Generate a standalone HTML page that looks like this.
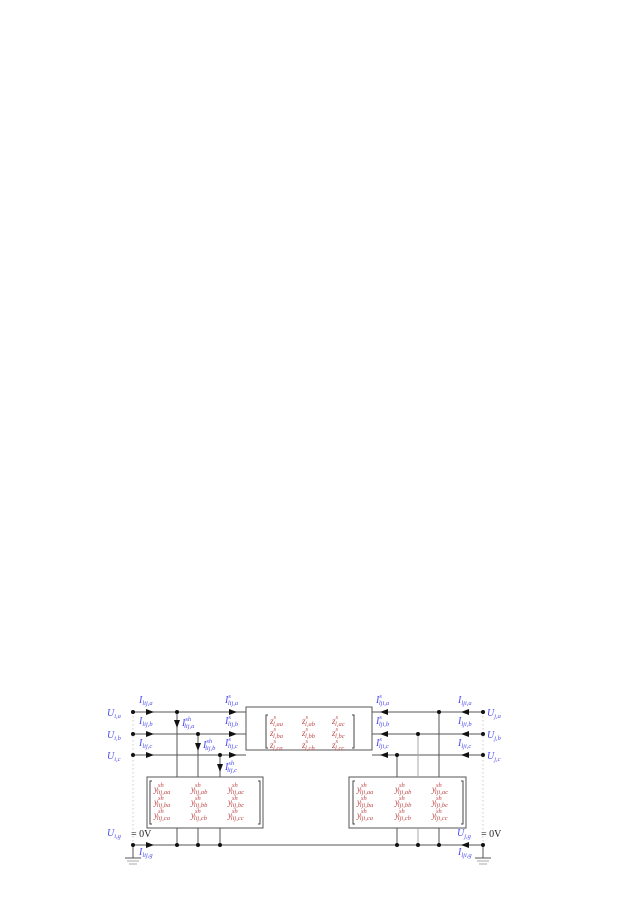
<!DOCTYPE html>
<html><head><meta charset="utf-8"><style>
html,body{margin:0;padding:0;background:#fff;}
svg{display:block;}
text{font-family:"Liberation Serif",serif;font-style:italic;}
.b{fill:#4a4af0;font-size:10px;}
.r{fill:#c04848;font-size:9px;}
.s{font-size:6.5px;}
.k{fill:#222;font-style:normal;font-size:10px;}
</style></head><body>
<svg width="641" height="906" viewBox="0 0 641 906" xmlns="http://www.w3.org/2000/svg">
<defs>
<marker id="ar" viewBox="0 0 10 10" refX="5" refY="5" markerWidth="10" markerHeight="10" orient="auto"><path d="M0,1 L10,5 L0,9 z" fill="#111"/></marker>
</defs>
<g stroke="#bbb" stroke-dasharray="1.5,2.5" stroke-width="0.8">
<line x1="133" y1="712" x2="133" y2="845"/><line x1="483" y1="712" x2="483" y2="845"/>
</g>
<g stroke="#555" stroke-width="1" fill="none">
<line x1="133" y1="712" x2="246" y2="712"/><line x1="133" y1="734" x2="246" y2="734"/><line x1="133" y1="755" x2="246" y2="755"/>
<line x1="372" y1="712" x2="483" y2="712"/><line x1="372" y1="734" x2="483" y2="734"/><line x1="372" y1="755" x2="483" y2="755"/>
<line x1="133" y1="845" x2="483" y2="845"/>
<rect x="246" y="707" width="126" height="43"/>
<rect x="147" y="777" width="116" height="51"/>
<rect x="349" y="777" width="117" height="51"/>
<line x1="177" y1="712" x2="177" y2="777"/><line x1="198" y1="734" x2="198" y2="777"/><line x1="220" y1="755" x2="220" y2="777"/>
<line x1="177" y1="828" x2="177" y2="845"/><line x1="198" y1="828" x2="198" y2="845"/><line x1="220" y1="828" x2="220" y2="845"/>
<line x1="439" y1="712" x2="439" y2="777"/><line x1="418" y1="734" x2="418" y2="777" stroke="#aaa"/><line x1="397" y1="755" x2="397" y2="777"/>
<line x1="439" y1="828" x2="439" y2="845"/><line x1="418" y1="828" x2="418" y2="845" stroke="#aaa"/><line x1="397" y1="828" x2="397" y2="845"/>
<line x1="133" y1="845" x2="133" y2="858"/>
<line x1="125" y1="858" x2="141" y2="858"/><line x1="127" y1="861" x2="139" y2="861" stroke="#aaa"/><line x1="129" y1="864" x2="137" y2="864" stroke="#aaa"/>
<line x1="483" y1="845" x2="483" y2="858"/>
<line x1="475" y1="858" x2="491" y2="858"/><line x1="477" y1="861" x2="489" y2="861" stroke="#aaa"/><line x1="479" y1="864" x2="487" y2="864" stroke="#aaa"/>
</g>
<g fill="#111">
<path d="M146,709 l8,3 l-8,3z"/><path d="M146,731 l8,3 l-8,3z"/><path d="M146,752 l8,3 l-8,3z"/><path d="M146,842 l8,3 l-8,3z"/>
<path d="M229,709 l8,3 l-8,3z"/><path d="M229,731 l8,3 l-8,3z"/><path d="M229,752 l8,3 l-8,3z"/>
<path d="M388,709 l-8,3 l8,3z"/><path d="M388,731 l-8,3 l8,3z"/><path d="M388,752 l-8,3 l8,3z"/>
<path d="M469,709 l-8,3 l8,3z"/><path d="M469,731 l-8,3 l8,3z"/><path d="M469,752 l-8,3 l8,3z"/><path d="M469,842 l-8,3 l8,3z"/>
<path d="M174,720 l3,8 l3,-8z"/><path d="M195,743 l3,8 l3,-8z"/><path d="M217,764 l3,8 l3,-8z"/>
<circle cx="133" cy="712" r="2"/><circle cx="133" cy="734" r="2"/><circle cx="133" cy="755" r="2"/><circle cx="133" cy="845" r="2"/>
<circle cx="483" cy="712" r="2"/><circle cx="483" cy="734" r="2"/><circle cx="483" cy="755" r="2"/><circle cx="483" cy="845" r="2"/>
<circle cx="177" cy="712" r="2"/><circle cx="198" cy="734" r="2"/><circle cx="220" cy="755" r="2"/>
<circle cx="439" cy="712" r="2"/><circle cx="418" cy="734" r="2"/><circle cx="397" cy="755" r="2"/>
<circle cx="177" cy="845" r="2"/><circle cx="198" cy="845" r="2"/><circle cx="220" cy="845" r="2"/>
<circle cx="397" cy="845" r="2"/><circle cx="418" cy="845" r="2"/><circle cx="439" cy="845" r="2"/>
</g>
<!-- brackets -->
<g stroke="#444" fill="none" stroke-width="1">
<path d="M268,715 h-2 v33 h2"/><path d="M352,715 h2 v33 h-2"/>
<path d="M152,781 h-2 v43 h2"/><path d="M258,781 h2 v43 h-2"/>
<path d="M355,781 h-2 v43 h2"/><path d="M461,781 h2 v43 h-2"/>
</g>
<!-- blue labels -->
<g class="b">
<text x="107" y="716">U<tspan class="s" dy="2">i,a</tspan></text>
<text x="107" y="738">U<tspan class="s" dy="2">i,b</tspan></text>
<text x="107" y="759">U<tspan class="s" dy="2">i,c</tspan></text>
<text x="107" y="836">U<tspan class="s" dy="2">i,g</tspan></text>
<text x="139" y="703">I<tspan class="s" dy="2">lij,a</tspan></text>
<text x="139" y="724">I<tspan class="s" dy="2">lij,b</tspan></text>
<text x="139" y="746">I<tspan class="s" dy="2">lij,c</tspan></text>
<text x="139" y="855">I<tspan class="s" dy="2">lij,g</tspan></text>
<text x="225" y="703">I<tspan class="s" dy="-5">s</tspan><tspan class="s" dx="-3" dy="7">lij,a</tspan></text>
<text x="225" y="724">I<tspan class="s" dy="-5">s</tspan><tspan class="s" dx="-3" dy="7">lij,b</tspan></text>
<text x="225" y="746">I<tspan class="s" dy="-5">s</tspan><tspan class="s" dx="-3" dy="7">lij,c</tspan></text>
<text x="182" y="726">I<tspan class="s" dy="-5">sh</tspan><tspan class="s" dx="-7" dy="7">lij,a</tspan></text>
<text x="203" y="748">I<tspan class="s" dy="-5">sh</tspan><tspan class="s" dx="-7" dy="7">lij,b</tspan></text>
<text x="225" y="770">I<tspan class="s" dy="-5">sh</tspan><tspan class="s" dx="-7" dy="7">lij,c</tspan></text>
<text x="376" y="703">I<tspan class="s" dy="-5">s</tspan><tspan class="s" dx="-3" dy="7">lji,a</tspan></text>
<text x="376" y="724">I<tspan class="s" dy="-5">s</tspan><tspan class="s" dx="-3" dy="7">lji,b</tspan></text>
<text x="376" y="746">I<tspan class="s" dy="-5">s</tspan><tspan class="s" dx="-3" dy="7">lji,c</tspan></text>
<text x="458" y="703">I<tspan class="s" dy="2">lji,a</tspan></text>
<text x="458" y="724">I<tspan class="s" dy="2">lji,b</tspan></text>
<text x="458" y="746">I<tspan class="s" dy="2">lji,c</tspan></text>
<text x="458" y="855">I<tspan class="s" dy="2">lji,g</tspan></text>
<text x="487" y="716">U<tspan class="s" dy="2">j,a</tspan></text>
<text x="487" y="738">U<tspan class="s" dy="2">j,b</tspan></text>
<text x="487" y="759">U<tspan class="s" dy="2">j,c</tspan></text>
<text x="457" y="836">U<tspan class="s" dy="2">j,g</tspan></text>
</g>
<text class="k" x="131" y="837">= 0V</text>
<text class="k" x="481" y="837">= 0V</text>
<!-- series matrix -->
<g class="r">
<text x="270" y="724">z<tspan class="s" dy="-5">s</tspan><tspan class="s" dx="-3" dy="7">l,aa</tspan></text>
<text x="302" y="724">z<tspan class="s" dy="-5">s</tspan><tspan class="s" dx="-3" dy="7">l,ab</tspan></text>
<text x="332" y="724">z<tspan class="s" dy="-5">s</tspan><tspan class="s" dx="-3" dy="7">l,ac</tspan></text>
<text x="270" y="736">z<tspan class="s" dy="-5">s</tspan><tspan class="s" dx="-3" dy="7">l,ba</tspan></text>
<text x="302" y="736">z<tspan class="s" dy="-5">s</tspan><tspan class="s" dx="-3" dy="7">l,bb</tspan></text>
<text x="332" y="736">z<tspan class="s" dy="-5">s</tspan><tspan class="s" dx="-3" dy="7">l,bc</tspan></text>
<text x="270" y="748">z<tspan class="s" dy="-5">s</tspan><tspan class="s" dx="-3" dy="7">l,ca</tspan></text>
<text x="302" y="748">z<tspan class="s" dy="-5">s</tspan><tspan class="s" dx="-3" dy="7">l,cb</tspan></text>
<text x="332" y="748">z<tspan class="s" dy="-5">s</tspan><tspan class="s" dx="-3" dy="7">l,cc</tspan></text>
</g>
<!-- shunt matrices -->
<g class="r">
<text x="154" y="792">y<tspan class="s" dy="-5">sh</tspan><tspan class="s" dx="-7" dy="7">lij,aa</tspan></text>
<text x="191" y="792">y<tspan class="s" dy="-5">sh</tspan><tspan class="s" dx="-7" dy="7">lij,ab</tspan></text>
<text x="228" y="792">y<tspan class="s" dy="-5">sh</tspan><tspan class="s" dx="-7" dy="7">lij,ac</tspan></text>
<text x="154" y="805">y<tspan class="s" dy="-5">sh</tspan><tspan class="s" dx="-7" dy="7">lij,ba</tspan></text>
<text x="191" y="805">y<tspan class="s" dy="-5">sh</tspan><tspan class="s" dx="-7" dy="7">lij,bb</tspan></text>
<text x="228" y="805">y<tspan class="s" dy="-5">sh</tspan><tspan class="s" dx="-7" dy="7">lij,bc</tspan></text>
<text x="154" y="818">y<tspan class="s" dy="-5">sh</tspan><tspan class="s" dx="-7" dy="7">lij,ca</tspan></text>
<text x="191" y="818">y<tspan class="s" dy="-5">sh</tspan><tspan class="s" dx="-7" dy="7">lij,cb</tspan></text>
<text x="228" y="818">y<tspan class="s" dy="-5">sh</tspan><tspan class="s" dx="-7" dy="7">lij,cc</tspan></text>
<text x="357" y="792">y<tspan class="s" dy="-5">sh</tspan><tspan class="s" dx="-7" dy="7">lji,aa</tspan></text>
<text x="395" y="792">y<tspan class="s" dy="-5">sh</tspan><tspan class="s" dx="-7" dy="7">lji,ab</tspan></text>
<text x="432" y="792">y<tspan class="s" dy="-5">sh</tspan><tspan class="s" dx="-7" dy="7">lji,ac</tspan></text>
<text x="357" y="805">y<tspan class="s" dy="-5">sh</tspan><tspan class="s" dx="-7" dy="7">lji,ba</tspan></text>
<text x="395" y="805">y<tspan class="s" dy="-5">sh</tspan><tspan class="s" dx="-7" dy="7">lji,bb</tspan></text>
<text x="432" y="805">y<tspan class="s" dy="-5">sh</tspan><tspan class="s" dx="-7" dy="7">lji,bc</tspan></text>
<text x="357" y="818">y<tspan class="s" dy="-5">sh</tspan><tspan class="s" dx="-7" dy="7">lji,ca</tspan></text>
<text x="395" y="818">y<tspan class="s" dy="-5">sh</tspan><tspan class="s" dx="-7" dy="7">lji,cb</tspan></text>
<text x="432" y="818">y<tspan class="s" dy="-5">sh</tspan><tspan class="s" dx="-7" dy="7">lji,cc</tspan></text>
</g>
</svg>
</body></html>
